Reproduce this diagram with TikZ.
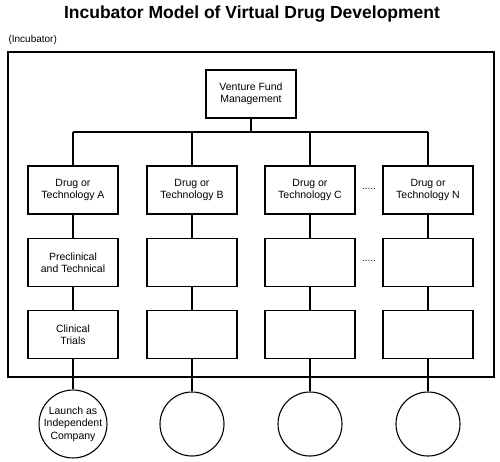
\documentclass[tikz,border=0pt]{standalone}
\usepackage{fontspec}
\setmainfont{Liberation Sans}
\begin{document}
\begin{tikzpicture}[x=1pt,y=-1pt,line width=1.1pt,
  box/.style={draw,minimum width=90pt,minimum height=48pt,align=center,font=\fontsize{10.5}{12.5}\selectfont,inner sep=0pt},
  endcirc/.style={draw,circle,minimum size=64pt,align=center,font=\fontsize{10.5}{12.5}\selectfont,inner sep=0pt},
  lbl/.style={font=\fontsize{10}{12}\selectfont}]
\useasboundingbox (0,0) rectangle (500,461);
\node[font=\bfseries\fontsize{17.5}{20}\selectfont] (title) at (252,14) {Incubator Model of Virtual Drug Development};
\node[lbl,anchor=west,inner sep=0pt] (inc) at (8,40) {(Incubator)};
\draw (8,52) rectangle (494,377);
\node[box] (vfm) at (251,94) {Venture Fund\\Management};
\coordinate (hb) at (251,132);
\foreach \n/\x/\t/\p/\c in {a/73/{Drug or\\Technology A}/{Preclinical\\and Technical}/{Clinical\\Trials},
                           b/192/{Drug or\\Technology B}/{}/{},
                           c/310/{Drug or\\Technology C}/{}/{},
                           n/428/{Drug or\\Technology N}/{}/{}}{
  \node[box] (\n1) at (\x,190) {\t};
  \node[box] (\n2) at (\x,262.5) {\p};
  \node[box] (\n3) at (\x,334.5) {\c};
  \coordinate (\n0) at (\x,132);
  \draw (\n0) -- (\n1) (\n1) -- (\n2) (\n2) -- (\n3);
}
\node[endcirc] (a4) at (73,424) {Launch as\\Independent\\Company};
\node[endcirc] (b4) at (192,424) {};
\node[endcirc] (c4) at (310,424) {};
\node[endcirc] (n4) at (428,424) {};
\draw (a3) -- (a4) (b3) -- (b4) (c3) -- (c4) (n3) -- (n4);
\draw (vfm) -- (hb);
\draw (a0) -- (n0);
\node[lbl] (d1) at (369,189) {.....};
\node[lbl] (d2) at (369,261) {.....};
\end{tikzpicture}
\end{document}
